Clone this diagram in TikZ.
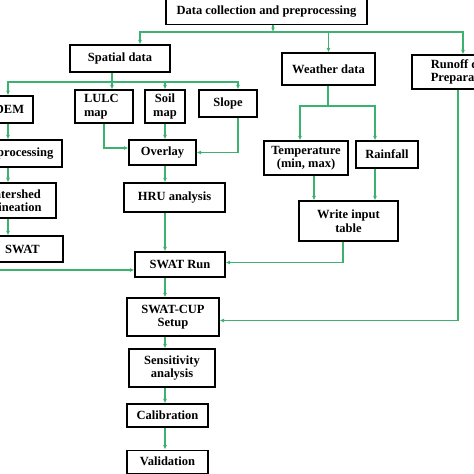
\documentclass[tikz,border=0pt]{standalone}
\usepackage{fontspec}
\setmainfont{Liberation Serif}
\usepackage[svgnames]{xcolor}
\usetikzlibrary{arrows.meta, positioning, calc}

\begin{document}
\begin{tikzpicture}[
    x=1pt, y=-1pt,
    stage/.style={rectangle, draw=black, line width=1.1pt, fill=white, align=center, inner sep=1pt, font=\bfseries\fontsize{12.5}{13.5}\selectfont},
    flow/.style={-{Latex[length=4.5pt, width=4pt]}, line width=1.1pt, color=MediumSeaGreen},
    link/.style={line width=1.1pt, color=MediumSeaGreen}
    ]
    \useasboundingbox (0,0) rectangle (474,474);
    \clip (0,0) rectangle (474,474);

    % Nodes
    \node[stage, minimum width=201pt, minimum height=25pt] (data) at (266.5,12) {Data collection and preprocessing};
    \node[stage, minimum width=100pt, minimum height=27pt] (spatial) at (120,58.5) {Spatial data};
    \node[stage, minimum width=93pt, minimum height=32pt] (weather) at (328.5,69) {Weather data};
    \node[stage, minimum width=102pt, minimum height=34pt] (runoff) at (463,72) {Runoff data\\Preparation};
    \node[stage, minimum width=47pt, minimum height=27pt] (dem) at (9.5,109.5) {DEM};
    \node[stage, minimum width=58pt, minimum height=33pt, text width=40pt, align=left] (lulc) at (104,106.5) {LULC\\map};
    \node[stage, minimum width=40pt, minimum height=33pt] (soil) at (165,106.5) {Soil\\map};
    \node[stage, minimum width=58pt, minimum height=27pt] (slope) at (228,103.5) {Slope};
    \node[stage, minimum width=92pt, minimum height=27pt] (prep) at (16,153.5) {Preprocessing};
    \node[stage, minimum width=67pt, minimum height=25pt] (overlay) at (162.5,152.5) {Overlay};
    \node[stage, minimum width=88pt, minimum height=35pt] (shed) at (12,200.5) {Watershed\\delineation};
    \node[stage, minimum width=101pt, minimum height=29pt] (hru) at (174.5,197.5) {HRU analysis};
    \node[stage, minimum width=81pt, minimum height=26pt] (swat) at (22.5,249) {SWAT};
    \node[stage, minimum width=90pt, minimum height=25pt] (run) at (180,264.5) {SWAT Run};
    \node[stage, minimum width=84pt, minimum height=34pt] (temp) at (306,158) {Temperature\\(min, max)};
    \node[stage, minimum width=62pt, minimum height=27pt] (rain) at (387,154.5) {Rainfall};
    \node[stage, minimum width=99pt, minimum height=40pt] (table) at (348.5,221) {Write input\\table};
    \node[stage, minimum width=92pt, minimum height=38pt] (cup) at (173,317) {SWAT-CUP\\Setup};
    \node[stage, minimum width=86pt, minimum height=38pt] (sens) at (172,368) {Sensitivity\\analysis};
    \node[stage, minimum width=81pt, minimum height=23pt] (calib) at (167.5,415.5) {Calibration};
    \node[stage, minimum width=81pt, minimum height=23pt, below=22pt of calib] (valid) {Validation};

    % Bus points and columns
    \coordinate (dbus) at (273,32);
    \coordinate (sbus) at (112,82);
    \coordinate (wbus) at (328,106);
    \coordinate (leftcol) at (8,0);
    \coordinate (midcol) at (165,0);
    \coordinate (tcol) at (314,0);
    \coordinate (rcol) at (375,0);
    \coordinate (feed) at (-10,0);

    % Edges
    \draw[flow] (data.south -| dbus) -- (dbus);
    \draw[flow] (dbus) -| ([xshift=20pt]spatial.north);
    \draw[flow] (dbus) -| (weather);
    \draw[flow] (dbus) -| (runoff);
    \draw[flow] (spatial.south -| sbus) -- (lulc.north -| sbus);
    \draw[flow] (sbus) -| (dem.north -| leftcol);
    \draw[flow] (sbus) -| (soil);
    \draw[flow] (sbus) -| ([xshift=10pt]slope.north);
    \draw[flow] (lulc.south) |- ([yshift=4.5pt]overlay.west);
    \draw[flow] (soil.south) -- (soil.south |- overlay.north);
    \draw[flow] ([xshift=10pt]slope.south) |- (overlay);
    \draw[flow] (dem.south -| leftcol) -- (prep.north -| leftcol);
    \draw[flow] (prep.south -| leftcol) -- (shed.north -| leftcol);
    \draw[flow] (shed.south -| leftcol) -- (swat.north -| leftcol);
    \draw[flow] (swat.south -| feed) |- ([yshift=-5.5pt]run.west);
    \draw[flow] (overlay.south -| midcol) -- (hru.north -| midcol);
    \draw[flow] (hru.south -| midcol) -- (run.north -| midcol);
    \draw[link] (weather.south -| wbus) -- (wbus);
    \draw[flow] (wbus) -| ([xshift=-6pt]temp.north);
    \draw[flow] (wbus) -| (rain.north -| rcol);
    \draw[flow] (temp.south -| tcol) -- (table.north -| tcol);
    \draw[flow] (rain.south -| rcol) -- (table.north -| rcol);
    \draw[flow] ([xshift=-5.5pt]table.south) |- ([yshift=2pt]run.east);
    \draw[flow] ([xshift=-5pt]runoff.south) |- ([yshift=-3.5pt]cup.east);
    \draw[flow] (run.south -| midcol) -- (cup.north -| midcol);
    \draw[flow] (cup.south -| midcol) -- (sens.north -| midcol);
    \draw[flow] (sens.south -| midcol) -- (calib.north -| midcol);
    \draw[flow] (calib.south -| midcol) -- (valid.north -| midcol);
\end{tikzpicture}
\end{document}
